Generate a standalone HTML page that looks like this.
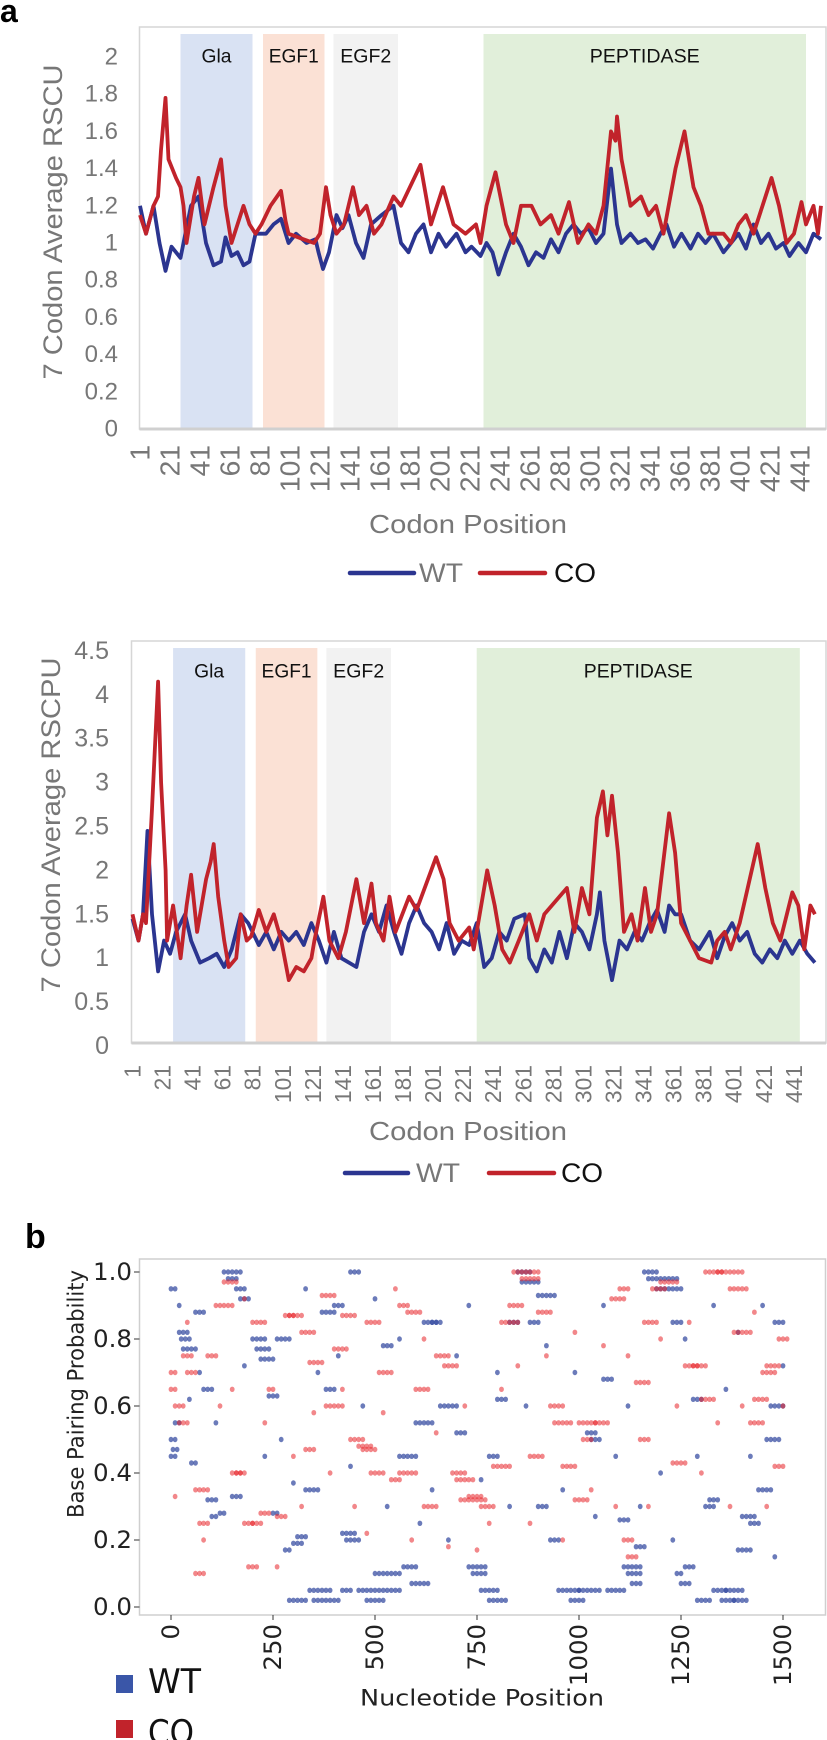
<!DOCTYPE html>
<html><head><meta charset="utf-8"><style>
html,body{margin:0;padding:0;background:#fff;}
svg{display:block;font-family:"Liberation Sans",Arial,sans-serif;}
</style></head><body>
<svg id="fig" width="827" height="1740" viewBox="0 0 827 1740">
<text x="0" y="22" font-size="32" font-weight="bold">a</text>
<text x="25" y="1248" font-size="34" font-weight="bold">b</text>
</svg>
<script>
// ---------- Chart 1 data (RSCU) ----------
const c1CoX=[1,5,10,13,15,18,20,25,28,30,32,37,40,44,50,55,58,62,66,70,74,78,82,88,95,98,100,110,117,121,125,128,132,137,143,147,152,157,162,170,175,188,195,203,210,218,225,228,232,238,245,250,255,262,268,275,280,287,293,300,305,310,315,318,319,322,328,335,340,345,350,358,364,370,375,380,390,395,400,405,410,418,422,427,432,437,442,445,450,453,455];
const c1CoY=[1.15,1.05,1.2,1.25,1.5,1.78,1.45,1.35,1.3,1.2,1.0,1.25,1.35,1.1,1.3,1.45,1.2,1.0,1.1,1.2,1.1,1.05,1.1,1.2,1.28,1.12,1.05,1.02,1.0,1.05,1.3,1.15,1.05,1.1,1.3,1.15,1.2,1.05,1.1,1.25,1.2,1.42,1.1,1.3,1.1,1.05,1.1,1.0,1.2,1.38,1.1,1.0,1.2,1.2,1.1,1.15,1.05,1.22,1.0,1.1,1.05,1.2,1.6,1.55,1.68,1.45,1.2,1.25,1.15,1.2,1.05,1.4,1.6,1.3,1.2,1.05,1.05,1.0,1.1,1.15,1.05,1.25,1.35,1.2,1.0,1.05,1.22,1.1,1.2,1.05,1.2];
const c1WtX=[1,5,10,14,18,22,28,35,40,45,50,55,58,62,66,70,74,78,85,90,95,100,105,112,118,120,123,127,132,136,140,145,150,155,162,170,175,180,185,190,195,200,205,212,218,222,228,232,236,240,245,250,255,260,265,270,275,280,285,290,295,300,305,310,315,319,322,328,333,338,343,348,352,357,362,368,373,378,383,390,395,400,405,410,415,420,425,430,434,440,445,450,455];
const c1WtY=[1.2,1.05,1.2,1.0,0.85,0.98,0.92,1.2,1.25,1.0,0.88,0.9,1.03,0.93,0.95,0.88,0.9,1.05,1.05,1.1,1.13,1.0,1.05,1.0,1.02,0.95,0.86,0.95,1.15,1.08,1.15,1.0,0.92,1.1,1.15,1.2,1.0,0.95,1.05,1.1,0.95,1.05,0.98,1.05,0.95,0.98,0.93,1.0,0.95,0.83,0.95,1.05,0.98,0.88,0.95,0.92,1.02,0.95,1.05,1.1,1.05,1.08,1.0,1.05,1.4,1.1,1.0,1.05,1.0,1.02,0.97,1.05,1.1,0.98,1.05,0.97,1.05,1.0,1.05,0.95,1.0,1.05,0.97,1.1,1.0,1.05,0.97,1.0,0.93,1.0,0.95,1.05,1.02];
const c1YTicks=[0,0.2,0.4,0.6,0.8,1,1.2,1.4,1.6,1.8,2];
// ---------- Chart 2 data (RSCPU) ----------
const c2CoX=[1,5,8,10,14,18,20,23,24,28,33,37,40,44,50,53,55,58,62,65,70,73,77,80,85,90,95,100,105,110,115,120,122,128,132,138,143,150,155,160,163,168,172,176,185,190,203,208,212,218,225,228,232,237,242,247,252,258,265,270,275,290,295,300,305,310,314,317,320,324,328,333,337,342,346,350,358,362,366,372,378,386,390,395,399,405,417,422,427,432,440,444,448,452,455];
const c2CoY=[1.5,1.2,1.5,1.4,2.7,4.15,3.0,2.0,1.2,1.6,1.0,1.6,1.95,1.3,1.9,2.1,2.3,1.7,1.2,0.9,1.0,1.5,1.2,1.25,1.55,1.3,1.5,1.2,0.75,0.9,0.85,1.0,1.2,1.7,1.2,1.0,1.3,1.9,1.4,1.85,1.4,1.2,1.7,1.3,1.7,1.55,2.15,1.9,1.4,1.2,1.35,1.1,1.5,2.0,1.6,1.1,0.95,1.2,1.5,1.2,1.5,1.8,1.3,1.8,1.5,2.6,2.9,2.4,2.85,2.2,1.3,1.5,1.2,1.8,1.3,1.5,2.65,2.2,1.4,1.2,1.0,0.95,1.2,1.3,1.1,1.4,2.3,1.8,1.4,1.2,1.75,1.6,1.1,1.6,1.5];
const c2WtX=[1,5,8,11,14,18,22,26,30,36,40,46,52,57,62,67,73,78,85,90,95,100,105,110,115,120,125,130,135,140,150,155,160,165,170,175,180,185,190,195,200,205,210,215,220,225,230,235,240,245,250,255,262,265,270,275,280,285,290,295,300,305,310,312,315,320,325,330,335,340,345,350,355,358,362,366,372,378,385,390,395,400,405,410,415,420,425,430,435,440,445,450,455];
const c2WtY=[1.45,1.2,1.5,2.45,1.5,0.85,1.2,1.05,1.3,1.5,1.2,0.95,1.0,1.05,0.9,1.1,1.5,1.4,1.15,1.3,1.1,1.3,1.2,1.3,1.15,1.4,1.2,0.95,1.3,1.0,0.9,1.3,1.5,1.3,1.6,1.3,1.05,1.4,1.6,1.4,1.3,1.1,1.4,1.05,1.2,1.15,1.4,0.9,1.0,1.3,1.2,1.45,1.5,1.0,0.85,1.1,0.95,1.3,1.0,1.4,1.3,1.1,1.5,1.75,1.2,0.75,1.2,1.1,1.3,1.2,1.4,1.55,1.3,1.6,1.5,1.5,1.2,1.1,1.3,1.0,1.25,1.4,1.2,1.3,1.05,0.95,1.1,1.0,1.2,1.05,1.2,1.05,0.95];
const c2YTicks=[0,0.5,1,1.5,2,2.5,3,3.5,4,4.5];
const codonTicks=[1,21,41,61,81,101,121,141,161,181,201,221,241,261,281,301,321,341,361,381,401,421,441];
const domainNames=["Gla","EGF1","EGF2","PEPTIDASE"];
const domainStart=[28,83,130,230];
const domainEnd=[76,124,173,445];
// ---------- Panel b data: runs [startNt, endNt, probability] ----------
const wtRuns=[[0,10,0.95],[0,15,0.5],[5,20,0.47],[0,10,0.45],[10,25,0.55],[20,40,0.82],[25,45,0.8],[30,60,0.77],[50,60,0.43],[60,80,0.88],[80,100,0.65],[90,110,0.32],[100,115,0.27],[120,130,0.28],[130,170,1.0],[140,165,0.98],[160,180,0.95],[170,190,0.92],[200,230,0.8],[210,240,0.77],[220,250,0.74],[240,260,0.63],[250,260,0.28],[260,290,0.8],[280,290,0.17],[290,330,0.02],[300,320,0.19],[310,330,0.21],[340,390,0.05],[350,410,0.02],[370,400,0.88],[380,400,0.65],[400,420,0.9],[420,440,0.05],[420,450,0.22],[430,460,0.2],[440,460,1.0],[460,560,0.05],[480,520,0.02],[500,560,0.1],[570,600,0.12],[590,630,0.07],[560,600,0.45],[620,650,0.85],[640,660,0.85],[700,720,0.52],[730,770,0.12],[740,770,0.1],[760,800,0.05],[780,820,0.02],[780,800,0.45],[800,820,0.62],[830,850,0.85],[850,880,1.0],[860,900,0.97],[880,900,0.85],[900,940,0.93],[930,950,0.2],[950,1000,0.05],[980,1010,0.02],[1000,1050,0.05],[1030,1050,0.5],[1020,1040,0.52],[1070,1110,0.05],[1110,1150,0.12],[1120,1150,0.1],[1130,1150,0.07],[1140,1160,0.18],[1160,1190,1.0],[1170,1240,0.98],[1190,1250,0.95],[1230,1250,0.85],[1240,1250,0.1],[1250,1270,0.07],[1260,1280,0.12],[1290,1320,0.02],[1310,1330,0.3],[1320,1340,0.32],[1330,1360,0.05],[1350,1380,0.02],[1360,1400,0.05],[1380,1410,0.02],[1390,1420,0.17],[1400,1430,0.27],[1420,1440,0.25],[1440,1470,0.35],[1460,1490,0.5],[1480,1500,0.85],[1470,1500,0.6],[600,640,0.55],[660,700,0.6],[330,360,0.35],[150,170,0.33],[520,540,0.78],[1060,1080,0.68],[1100,1120,0.26],[1280,1300,0.62],[900,920,0.3]];
const coRuns=[[0,15,0.7],[0,10,0.65],[10,30,0.6],[20,40,0.55],[30,50,0.75],[40,60,0.7],[60,80,0.1],[70,90,0.25],[90,110,0.75],[110,150,0.9],[130,160,0.97],[150,170,0.4],[160,180,0.4],[180,200,0.25],[190,210,0.12],[200,220,0.25],[220,240,0.28],[240,250,0.65],[260,280,0.27],[280,300,0.87],[290,320,0.87],[320,350,0.82],[340,370,0.73],[370,400,0.93],[380,420,0.6],[400,430,0.77],[420,450,0.87],[440,470,0.5],[460,490,0.48],[470,500,0.47],[490,520,0.4],[510,540,0.7],[540,560,0.38],[560,600,0.4],[560,580,0.9],[580,610,0.88],[620,650,0.3],[650,680,0.75],[670,700,0.72],[690,720,0.4],[700,740,0.38],[710,770,0.32],[730,760,0.33],[760,790,0.3],[790,830,0.42],[810,850,0.85],[830,860,0.9],[840,900,1.0],[860,900,0.98],[900,930,0.88],[930,960,0.6],[940,980,0.55],[960,990,0.42],[990,1020,0.32],[1000,1040,0.55],[1010,1030,0.5],[1040,1070,0.55],[1080,1110,0.92],[1100,1120,0.95],[1110,1130,0.2],[1120,1140,0.15],[1140,1170,0.67],[1160,1190,0.85],[1180,1210,0.95],[1200,1240,0.97],[1230,1260,0.43],[1260,1290,0.72],[1280,1310,0.72],[1300,1330,0.62],[1310,1350,1.0],[1340,1400,1.0],[1370,1410,0.95],[1380,1420,0.82],[1420,1450,0.55],[1430,1460,0.62],[1450,1480,0.7],[1460,1490,0.72],[1480,1500,0.42],[1490,1510,0.8],[200,230,0.85],[60,90,0.35],[600,630,0.65],[480,510,0.85],[880,910,0.45],[1150,1170,0.5],[330,350,0.47]];
// isolated points [nt, probability]
const wtPts=[[20,0.9],[45,0.62],[70,0.7],[110,0.55],[180,0.72],[230,0.45],[270,0.5],[300,0.37],[330,0.95],[360,0.7],[410,0.75],[440,0.42],[470,0.6],[500,0.92],[530,0.3],[560,0.8],[610,0.25],[640,0.35],[680,0.2],[700,0.75],[730,0.9],[760,0.38],[800,0.7],[830,0.3],[870,0.6],[920,0.78],[960,0.35],[990,0.7],[1040,0.27],[1060,0.9],[1090,0.45],[1120,0.6],[1150,0.3],[1200,0.4],[1230,0.2],[1260,0.8],[1290,0.45],[1330,0.9],[1360,0.65],[1390,0.82],[1420,0.45],[1450,0.9],[1480,0.15],[1500,0.72]];
const coPts=[[10,0.33],[40,0.85],[80,0.2],[120,0.6],[150,0.65],[180,0.92],[230,0.55],[260,0.12],[300,0.45],[320,0.3],[350,0.58],[390,0.4],[420,0.65],[450,0.3],[480,0.22],[520,0.58],[550,0.95],[590,0.2],[620,0.8],[650,0.52],[680,0.18],[720,0.6],[750,0.17],[780,0.25],[810,0.65],[850,0.72],[880,0.25],[920,0.75],[960,0.2],[990,0.82],[1030,0.35],[1060,0.78],[1090,0.3],[1120,0.75],[1170,0.3],[1200,0.8],[1240,0.6],[1270,0.85],[1300,0.4],[1340,0.55],[1370,0.3],[1400,0.6],[1430,0.88],[1460,0.3],[1500,0.6]];
const ntTicks=[0,250,500,750,1000,1250,1500];
const probTicks=[0,0.2,0.4,0.6,0.8,1.0];

const NS="http://www.w3.org/2000/svg";
const svg=document.getElementById('fig');
function mk(tag,attrs,parent){const e=document.createElementNS(NS,tag);for(const k in attrs)e.setAttribute(k,attrs[k]);(parent||svg).appendChild(e);return e;}

const x1=c=>140+(c-1)*1.5, y1=v=>429-186*v;
const x2=c=>132.5+(c-1)*1.503, y2=v=>1046-87.8*v;
const xb=n=>171+0.408*n, yb=p=>1607-335*p;
const domColors=["#d9e2f3","#fbe1d5","#f2f2f2","#e1efda"];

function lineChart(cfg){
  const g=mk('g',{});
  
  
  const fr=mk('rect',{x:cfg.fx,y:cfg.fy,width:826-cfg.fx,height:cfg.fb-cfg.fy,fill:'#fff',stroke:'#d6d6d6','stroke-width':1.5},g);
  
  
  domainNames.forEach((nm,i)=>{
    const xa=cfg.x(domainStart[i]), xe=cfg.x(domainEnd[i]);
    const r=mk('rect',{x:xa,y:cfg.dTop,width:xe-xa,height:cfg.fb-cfg.dTop,fill:domColors[i]},g);
    
    
    const t=mk('text',{x:(xa+xe)/2,y:cfg.labY,'font-size':19,'text-anchor':'middle','dominant-baseline':'central',fill:'#111',textLength:cfg.labW[i],lengthAdjust:'spacingAndGlyphs'},g);
    t.textContent=nm;
    
    
  });
  const ax=mk('line',{x1:cfg.fx,x2:826,y1:cfg.fb,y2:cfg.fb,stroke:'#d0d0d0','stroke-width':3},g);
  
  
  cfg.yTicks.forEach(v=>{
    const t=mk('text',{x:cfg.ylx,y:cfg.y(v),'font-size':cfg.yfs,'text-anchor':'end','dominant-baseline':'central',fill:'#777'},g);
    t.textContent=String(v);
    
    
  });
  codonTicks.forEach(c=>{
    const s=String(c);
    const t=mk('text',{x:0,y:0,'font-size':cfg.xfs,'text-anchor':'end','dominant-baseline':'central',fill:'#777',transform:`translate(${cfg.x(c)},${cfg.xly}) rotate(-90)`,textLength:s.length*cfg.digW,lengthAdjust:'spacingAndGlyphs'},g);
    t.textContent=s;
    
    
  });
  [[cfg.wtX,cfg.wtY,'#2b3590','wt-line'],[cfg.coX,cfg.coY,'#c1232b','co-line']].forEach(([xs,ys,col,nm])=>{
    const pts=xs.map((c,i)=>cfg.x(c).toFixed(1)+','+cfg.y(ys[i]).toFixed(1)).join(' ');
    const p=mk('polyline',{points:pts,fill:'none',stroke:col,'stroke-width':3.8,'stroke-linejoin':'round'},g);
    
    
  });
  const yt=mk('text',{x:0,y:0,'font-size':27,'text-anchor':'middle','dominant-baseline':'central',fill:'#777',transform:`translate(${cfg.ytx},${cfg.yty}) rotate(-90)`,textLength:cfg.ytl,lengthAdjust:'spacingAndGlyphs'},g);
  yt.textContent=cfg.ytitle;
  
  
  const xt=mk('text',{x:468,y:cfg.xty,'font-size':26,'text-anchor':'middle','dominant-baseline':'central',fill:'#777',textLength:198,lengthAdjust:'spacingAndGlyphs'},g);
  xt.textContent='Codon Position';
  
  
  const L=cfg.leg;
  const l1=mk('line',{x1:L[0],x2:L[1],y1:cfg.legY,y2:cfg.legY,stroke:'#2b3590','stroke-width':4.5,'stroke-linecap':'round'},g);
  
  
  const t1=mk('text',{x:L[2],y:cfg.legY,'font-size':27,'dominant-baseline':'central',fill:'#777',textLength:44,lengthAdjust:'spacingAndGlyphs'},g);
  t1.textContent='WT';
  
  
  const l2=mk('line',{x1:L[3],x2:L[4],y1:cfg.legY,y2:cfg.legY,stroke:'#c1232b','stroke-width':4.5,'stroke-linecap':'round'},g);
  
  
  const t2=mk('text',{x:L[5],y:cfg.legY,'font-size':27,'dominant-baseline':'central',fill:'#111',textLength:42,lengthAdjust:'spacingAndGlyphs'},g);
  t2.textContent='CO';
  
  
}

lineChart({name:'rscu-chart',x:x1,y:y1,fx:139.5,fy:27,fb:429,dTop:34,labY:57,labW:[30,50,51,110],yTicks:c1YTicks,ylx:118,yfs:24,xfs:28,digW:15.7,xly:445,
  wtX:c1WtX,wtY:c1WtY,coX:c1CoX,coY:c1CoY,ytx:53,yty:222,ytl:315,ytitle:'7 Codon Average RSCU',xty:524,legY:573,leg:[350,414,419,480,545,554]});
lineChart({name:'rscpu-chart',x:x2,y:y2,fx:131.5,fy:641,fb:1043,dTop:648,labY:672,labW:[30,50,51,109],yTicks:c2YTicks,ylx:109,yfs:25,xfs:23,digW:12.7,xly:1065,
  wtX:c2WtX,wtY:c2WtY,coX:c2CoX,coY:c2CoY,ytx:51,yty:825,ytl:335,ytitle:'7 Codon Average RSCPU',xty:1131,legY:1173,leg:[345,408,416,489,554,561]});

// ---------- Panel b ----------
const gb=mk('g',{});


gb.setAttribute('font-family','"DejaVu Sans","Liberation Sans",sans-serif');
const fb=mk('rect',{x:139.5,y:1259,width:686,height:356,fill:'#fff',stroke:'#cfcfcf','stroke-width':1.5},gb);


probTicks.forEach(p=>{
  const tk=mk('line',{x1:134,x2:139.5,y1:yb(p),y2:yb(p),stroke:'#333'},gb);
  
  
  const t=mk('text',{x:132,y:yb(p),'font-size':24,'text-anchor':'end','dominant-baseline':'central',fill:'#222',textLength:39,lengthAdjust:'spacingAndGlyphs'},gb);
  t.textContent=p.toFixed(1);
  
  
});
ntTicks.forEach(n=>{
  const s=String(n);
  const tk=mk('line',{x1:xb(n),x2:xb(n),y1:1615,y2:1620,stroke:'#333'},gb);
  
  
  const t=mk('text',{x:0,y:0,'font-size':24,'text-anchor':'end','dominant-baseline':'central',fill:'#222',transform:`translate(${xb(n)},${1624}) rotate(-90)`,textLength:s.length*15.5,lengthAdjust:'spacingAndGlyphs'},gb);
  t.textContent=s;
  
  
});
function dot(n,p,col,op,nm){
  const c=mk('ellipse',{cx:xb(n).toFixed(1),cy:yb(p).toFixed(1),rx:2.4,ry:2.7,fill:col,'fill-opacity':op},gb);
  
  
}
function drawRuns(runs,pts,col,op,nm){
  runs.forEach(([a,b,p])=>{ for(let n=a;n<=b;n+=10) dot(n,p,col,op,nm); });
  pts.forEach(([n,p])=>dot(n,p,col,op,nm));
}
drawRuns(wtRuns,wtPts,'#3a4fa3',0.75,'wt-point');
drawRuns(coRuns,coPts,'#e8252a',0.55,'co-point');
const ybt=mk('text',{x:0,y:0,'font-size':22,'text-anchor':'middle','dominant-baseline':'central',fill:'#222',transform:'translate(77,1394) rotate(-90)',textLength:248,lengthAdjust:'spacingAndGlyphs'},gb);
ybt.textContent='Base Pairing Probability';


const xbt=mk('text',{x:482,y:1699,'font-size':22,'text-anchor':'middle','dominant-baseline':'central',fill:'#222',textLength:244,lengthAdjust:'spacingAndGlyphs'},gb);
xbt.textContent='Nucleotide Position';


const sq1=mk('rect',{x:116,y:1675,width:17,height:18,fill:'#3a56a8'},gb);


const lt1=mk('text',{x:148,y:1693,'font-size':34,fill:'#111',textLength:53,lengthAdjust:'spacingAndGlyphs'},gb);
lt1.textContent='WT';


const sq2=mk('rect',{x:116,y:1720,width:17,height:18,fill:'#c1232b'},gb);


const lt2=mk('text',{x:148,y:1744,'font-size':34,fill:'#111',textLength:46,lengthAdjust:'spacingAndGlyphs'},gb);
lt2.textContent='CO';


</script>
</body></html>
